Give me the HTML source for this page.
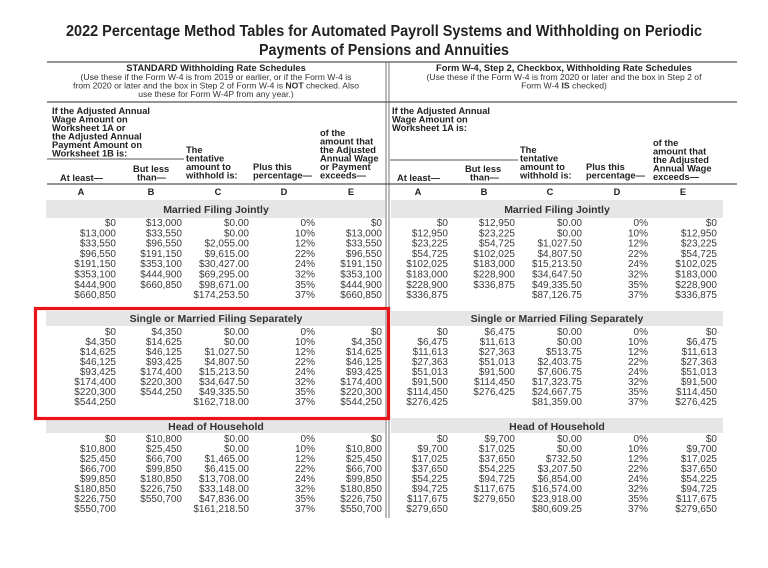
<!DOCTYPE html>
<html><head><meta charset="utf-8"><style>
html,body{margin:0;padding:0;background:#fff;}
svg{display:block;font-family:"Liberation Sans",Arial,sans-serif;}
.d{font-size:10px;fill:#3a3a3a;text-anchor:end;}
.h{font-size:9.3px;font-weight:bold;fill:#222;}
.s{font-size:8.6px;fill:#333;}
.bh{font-size:10.5px;font-weight:bold;fill:#333;text-anchor:middle;}
</style></head><body>
<svg width="768" height="568" viewBox="0 0 768 568" xmlns="http://www.w3.org/2000/svg">
<rect width="768" height="568" fill="#fff"/>
<text x="384" y="36" text-anchor="middle" font-size="15.5" font-weight="bold" fill="#222" textLength="636" lengthAdjust="spacingAndGlyphs">2022 Percentage Method Tables for Automated Payroll Systems and Withholding on Periodic</text>
<text x="384" y="55" text-anchor="middle" font-size="15.5" font-weight="bold" fill="#222" textLength="250" lengthAdjust="spacingAndGlyphs">Payments of Pensions and Annuities</text>
<line x1="47" y1="62" x2="737" y2="62" stroke="#555" stroke-width="1.3"/>
<line x1="386" y1="62" x2="386" y2="518" stroke="#777" stroke-width="1"/>
<line x1="389" y1="62" x2="389" y2="518" stroke="#777" stroke-width="1"/>
<!-- left header -->
<text x="216" y="71" text-anchor="middle" class="h">STANDARD Withholding Rate Schedules</text>
<text x="216" y="80" text-anchor="middle" class="s">(Use these if the Form W-4 is from 2019 or earlier, or if the Form W-4 is</text>
<text x="216" y="88.5" text-anchor="middle" class="s">from 2020 or later and the box in Step 2 of Form W-4 is <tspan font-weight="bold">NOT</tspan> checked. Also</text>
<text x="216" y="97" text-anchor="middle" class="s">use these for Form W-4P from any year.)</text>
<text x="564" y="71" text-anchor="middle" class="h">Form W-4, Step 2, Checkbox, Withholding Rate Schedules</text>
<text x="564" y="80" text-anchor="middle" class="s">(Use these if the Form W-4 is from 2020 or later and the box in Step 2 of</text>
<text x="564" y="88.5" text-anchor="middle" class="s">Form W-4 <tspan font-weight="bold">IS</tspan> checked)</text>
<line x1="47" y1="102" x2="737" y2="102" stroke="#555" stroke-width="1.2"/>
<g class="h">
<text x="52" y="114">If the Adjusted Annual</text>
<text x="52" y="122.5">Wage Amount on</text>
<text x="52" y="131">Worksheet 1A or</text>
<text x="52" y="139.5">the Adjusted Annual</text>
<text x="52" y="148">Payment Amount on</text>
<text x="52" y="156.5">Worksheet 1B is:</text>
<text x="186" y="153">The</text><text x="186" y="161.5">tentative</text><text x="186" y="170">amount to</text><text x="186" y="178.5">withhold is:</text>
<text x="253" y="170">Plus this</text><text x="253" y="178.5">percentage—</text>
<text x="320" y="136">of the</text><text x="320" y="144.5">amount that</text><text x="320" y="153">the Adjusted</text><text x="320" y="161.5">Annual Wage</text><text x="320" y="170">or Payment</text><text x="320" y="178.5">exceeds—</text>
<text x="60" y="181">At least—</text>
<text x="133" y="172">But less</text><text x="137" y="180.5">than—</text>

<text x="392" y="114">If the Adjusted Annual</text>
<text x="392" y="122.5">Wage Amount on</text>
<text x="392" y="131">Worksheet 1A is:</text>
<text x="520" y="153">The</text><text x="520" y="161.5">tentative</text><text x="520" y="170">amount to</text><text x="520" y="178.5">withhold is:</text>
<text x="586" y="170">Plus this</text><text x="586" y="178.5">percentage—</text>
<text x="653" y="146">of the</text><text x="653" y="154.5">amount that</text><text x="653" y="163">the Adjusted</text><text x="653" y="171.5">Annual Wage</text><text x="653" y="180">exceeds—</text>
<text x="397" y="181">At least—</text>
<text x="465" y="172">But less</text><text x="470" y="180.5">than—</text>
</g>
<line x1="47" y1="159" x2="184" y2="159" stroke="#555" stroke-width="1"/>
<line x1="390" y1="160" x2="518" y2="160" stroke="#555" stroke-width="1"/>
<line x1="47" y1="184" x2="737" y2="184" stroke="#555" stroke-width="1.2"/>
<g class="h" font-size="10" text-anchor="middle">
<text x="81" y="195">A</text><text x="151" y="195">B</text><text x="218" y="195">C</text><text x="284" y="195">D</text><text x="351" y="195">E</text>
<text x="418" y="195">A</text><text x="484" y="195">B</text><text x="550" y="195">C</text><text x="617" y="195">D</text><text x="683" y="195">E</text>
</g>
<!-- gray bands -->
<rect x="46" y="200" width="339" height="18" fill="#e6e6e6"/>
<rect x="391" y="200" width="332" height="18" fill="#e6e6e6"/>
<rect x="46" y="311" width="339" height="15" fill="#e6e6e6"/>
<rect x="391" y="311" width="332" height="15" fill="#e6e6e6"/>
<rect x="46" y="418" width="339" height="15" fill="#e6e6e6"/>
<rect x="391" y="418" width="332" height="15" fill="#e6e6e6"/>
<text x="216" y="213" class="bh">Married Filing Jointly</text>
<text x="557" y="213" class="bh">Married Filing Jointly</text>
<text x="216" y="322" class="bh">Single or Married Filing Separately</text>
<text x="557" y="322" class="bh">Single or Married Filing Separately</text>
<text x="216" y="430" class="bh">Head of Household</text>
<text x="557" y="430" class="bh">Head of Household</text>

<g class="d">
<!-- MFJ left -->
<g transform="translate(0,226)">
<text x="116" y="0">$0</text><text x="116" y="10.3">$13,000</text><text x="116" y="20.6">$33,550</text><text x="116" y="30.9">$96,550</text><text x="116" y="41.2">$191,150</text><text x="116" y="51.5">$353,100</text><text x="116" y="61.8">$444,900</text><text x="116" y="72.1">$660,850</text>
<text x="182" y="0">$13,000</text><text x="182" y="10.3">$33,550</text><text x="182" y="20.6">$96,550</text><text x="182" y="30.9">$191,150</text><text x="182" y="41.2">$353,100</text><text x="182" y="51.5">$444,900</text><text x="182" y="61.8">$660,850</text>
<text x="249" y="0">$0.00</text><text x="249" y="10.3">$0.00</text><text x="249" y="20.6">$2,055.00</text><text x="249" y="30.9">$9,615.00</text><text x="249" y="41.2">$30,427.00</text><text x="249" y="51.5">$69,295.00</text><text x="249" y="61.8">$98,671.00</text><text x="249" y="72.1">$174,253.50</text>
<text x="315" y="0">0%</text><text x="315" y="10.3">10%</text><text x="315" y="20.6">12%</text><text x="315" y="30.9">22%</text><text x="315" y="41.2">24%</text><text x="315" y="51.5">32%</text><text x="315" y="61.8">35%</text><text x="315" y="72.1">37%</text>
<text x="382" y="0">$0</text><text x="382" y="10.3">$13,000</text><text x="382" y="20.6">$33,550</text><text x="382" y="30.9">$96,550</text><text x="382" y="41.2">$191,150</text><text x="382" y="51.5">$353,100</text><text x="382" y="61.8">$444,900</text><text x="382" y="72.1">$660,850</text>
</g>
<!-- MFJ right -->
<g transform="translate(0,226)">
<text x="448" y="0">$0</text><text x="448" y="10.3">$12,950</text><text x="448" y="20.6">$23,225</text><text x="448" y="30.9">$54,725</text><text x="448" y="41.2">$102,025</text><text x="448" y="51.5">$183,000</text><text x="448" y="61.8">$228,900</text><text x="448" y="72.1">$336,875</text>
<text x="515" y="0">$12,950</text><text x="515" y="10.3">$23,225</text><text x="515" y="20.6">$54,725</text><text x="515" y="30.9">$102,025</text><text x="515" y="41.2">$183,000</text><text x="515" y="51.5">$228,900</text><text x="515" y="61.8">$336,875</text>
<text x="582" y="0">$0.00</text><text x="582" y="10.3">$0.00</text><text x="582" y="20.6">$1,027.50</text><text x="582" y="30.9">$4,807.50</text><text x="582" y="41.2">$15,213.50</text><text x="582" y="51.5">$34,647.50</text><text x="582" y="61.8">$49,335.50</text><text x="582" y="72.1">$87,126.75</text>
<text x="648" y="0">0%</text><text x="648" y="10.3">10%</text><text x="648" y="20.6">12%</text><text x="648" y="30.9">22%</text><text x="648" y="41.2">24%</text><text x="648" y="51.5">32%</text><text x="648" y="61.8">35%</text><text x="648" y="72.1">37%</text>
<text x="717" y="0">$0</text><text x="717" y="10.3">$12,950</text><text x="717" y="20.6">$23,225</text><text x="717" y="30.9">$54,725</text><text x="717" y="41.2">$102,025</text><text x="717" y="51.5">$183,000</text><text x="717" y="61.8">$228,900</text><text x="717" y="72.1">$336,875</text>
</g>
<!-- Single left -->
<g transform="translate(0,335)">
<text x="116" y="0">$0</text><text x="116" y="10">$4,350</text><text x="116" y="20">$14,625</text><text x="116" y="30">$46,125</text><text x="116" y="40">$93,425</text><text x="116" y="50">$174,400</text><text x="116" y="60">$220,300</text><text x="116" y="70">$544,250</text>
<text x="182" y="0">$4,350</text><text x="182" y="10">$14,625</text><text x="182" y="20">$46,125</text><text x="182" y="30">$93,425</text><text x="182" y="40">$174,400</text><text x="182" y="50">$220,300</text><text x="182" y="60">$544,250</text>
<text x="249" y="0">$0.00</text><text x="249" y="10">$0.00</text><text x="249" y="20">$1,027.50</text><text x="249" y="30">$4,807.50</text><text x="249" y="40">$15,213.50</text><text x="249" y="50">$34,647.50</text><text x="249" y="60">$49,335.50</text><text x="249" y="70">$162,718.00</text>
<text x="315" y="0">0%</text><text x="315" y="10">10%</text><text x="315" y="20">12%</text><text x="315" y="30">22%</text><text x="315" y="40">24%</text><text x="315" y="50">32%</text><text x="315" y="60">35%</text><text x="315" y="70">37%</text>
<text x="382" y="0">$0</text><text x="382" y="10">$4,350</text><text x="382" y="20">$14,625</text><text x="382" y="30">$46,125</text><text x="382" y="40">$93,425</text><text x="382" y="50">$174,400</text><text x="382" y="60">$220,300</text><text x="382" y="70">$544,250</text>
</g>
<!-- Single right -->
<g transform="translate(0,335)">
<text x="448" y="0">$0</text><text x="448" y="10">$6,475</text><text x="448" y="20">$11,613</text><text x="448" y="30">$27,363</text><text x="448" y="40">$51,013</text><text x="448" y="50">$91,500</text><text x="448" y="60">$114,450</text><text x="448" y="70">$276,425</text>
<text x="515" y="0">$6,475</text><text x="515" y="10">$11,613</text><text x="515" y="20">$27,363</text><text x="515" y="30">$51,013</text><text x="515" y="40">$91,500</text><text x="515" y="50">$114,450</text><text x="515" y="60">$276,425</text>
<text x="582" y="0">$0.00</text><text x="582" y="10">$0.00</text><text x="582" y="20">$513.75</text><text x="582" y="30">$2,403.75</text><text x="582" y="40">$7,606.75</text><text x="582" y="50">$17,323.75</text><text x="582" y="60">$24,667.75</text><text x="582" y="70">$81,359.00</text>
<text x="648" y="0">0%</text><text x="648" y="10">10%</text><text x="648" y="20">12%</text><text x="648" y="30">22%</text><text x="648" y="40">24%</text><text x="648" y="50">32%</text><text x="648" y="60">35%</text><text x="648" y="70">37%</text>
<text x="717" y="0">$0</text><text x="717" y="10">$6,475</text><text x="717" y="20">$11,613</text><text x="717" y="30">$27,363</text><text x="717" y="40">$51,013</text><text x="717" y="50">$91,500</text><text x="717" y="60">$114,450</text><text x="717" y="70">$276,425</text>
</g>
<!-- HoH left -->
<g transform="translate(0,442)">
<text x="116" y="0">$0</text><text x="116" y="10">$10,800</text><text x="116" y="20">$25,450</text><text x="116" y="30">$66,700</text><text x="116" y="40">$99,850</text><text x="116" y="50">$180,850</text><text x="116" y="60">$226,750</text><text x="116" y="70">$550,700</text>
<text x="182" y="0">$10,800</text><text x="182" y="10">$25,450</text><text x="182" y="20">$66,700</text><text x="182" y="30">$99,850</text><text x="182" y="40">$180,850</text><text x="182" y="50">$226,750</text><text x="182" y="60">$550,700</text>
<text x="249" y="0">$0.00</text><text x="249" y="10">$0.00</text><text x="249" y="20">$1,465.00</text><text x="249" y="30">$6,415.00</text><text x="249" y="40">$13,708.00</text><text x="249" y="50">$33,148.00</text><text x="249" y="60">$47,836.00</text><text x="249" y="70">$161,218.50</text>
<text x="315" y="0">0%</text><text x="315" y="10">10%</text><text x="315" y="20">12%</text><text x="315" y="30">22%</text><text x="315" y="40">24%</text><text x="315" y="50">32%</text><text x="315" y="60">35%</text><text x="315" y="70">37%</text>
<text x="382" y="0">$0</text><text x="382" y="10">$10,800</text><text x="382" y="20">$25,450</text><text x="382" y="30">$66,700</text><text x="382" y="40">$99,850</text><text x="382" y="50">$180,850</text><text x="382" y="60">$226,750</text><text x="382" y="70">$550,700</text>
</g>
<!-- HoH right -->
<g transform="translate(0,442)">
<text x="448" y="0">$0</text><text x="448" y="10">$9,700</text><text x="448" y="20">$17,025</text><text x="448" y="30">$37,650</text><text x="448" y="40">$54,225</text><text x="448" y="50">$94,725</text><text x="448" y="60">$117,675</text><text x="448" y="70">$279,650</text>
<text x="515" y="0">$9,700</text><text x="515" y="10">$17,025</text><text x="515" y="20">$37,650</text><text x="515" y="30">$54,225</text><text x="515" y="40">$94,725</text><text x="515" y="50">$117,675</text><text x="515" y="60">$279,650</text>
<text x="582" y="0">$0.00</text><text x="582" y="10">$0.00</text><text x="582" y="20">$732.50</text><text x="582" y="30">$3,207.50</text><text x="582" y="40">$6,854.00</text><text x="582" y="50">$16,574.00</text><text x="582" y="60">$23,918.00</text><text x="582" y="70">$80,609.25</text>
<text x="648" y="0">0%</text><text x="648" y="10">10%</text><text x="648" y="20">12%</text><text x="648" y="30">22%</text><text x="648" y="40">24%</text><text x="648" y="50">32%</text><text x="648" y="60">35%</text><text x="648" y="70">37%</text>
<text x="717" y="0">$0</text><text x="717" y="10">$9,700</text><text x="717" y="20">$17,025</text><text x="717" y="30">$37,650</text><text x="717" y="40">$54,225</text><text x="717" y="50">$94,725</text><text x="717" y="60">$117,675</text><text x="717" y="70">$279,650</text>
</g>
</g>
<rect x="35.5" y="308.5" width="353" height="110" fill="none" stroke="#e8141a" stroke-width="3.2"/>
</svg>
</body></html>
